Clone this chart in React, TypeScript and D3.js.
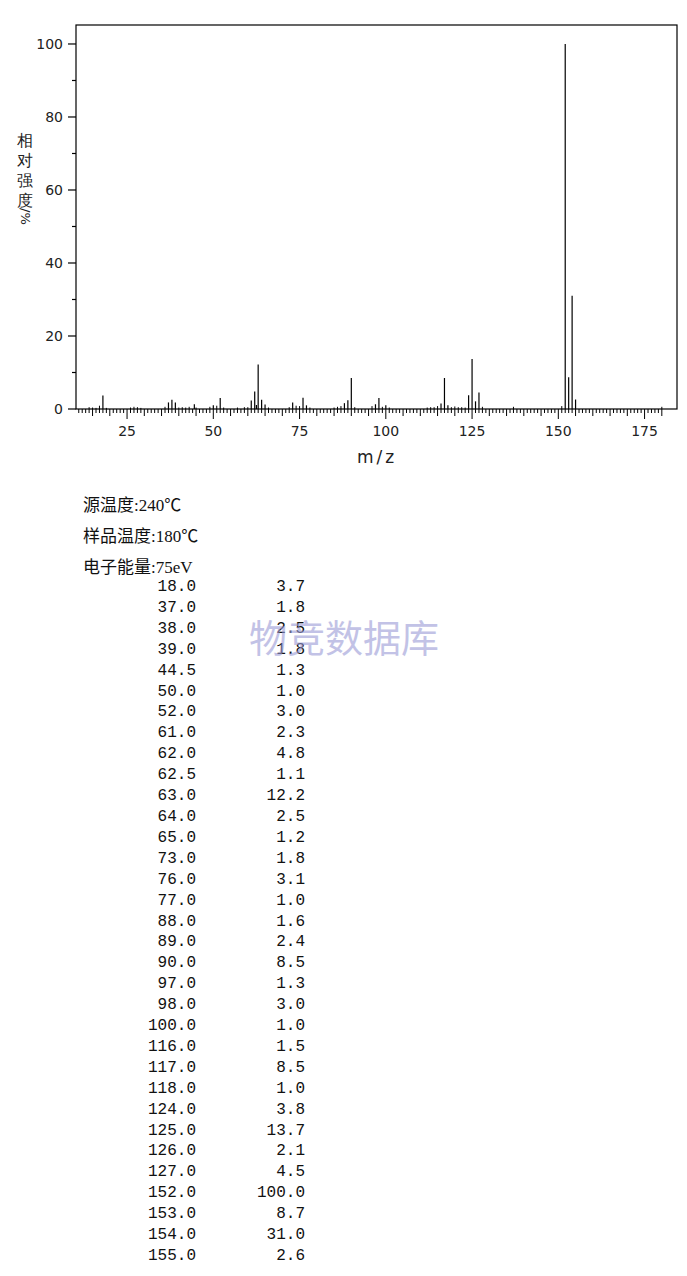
import React from 'react';
import * as d3 from 'd3';

// table peaks (m/z, relative intensity)
const mzValues = [18.0, 37.0, 38.0, 39.0, 44.5, 50.0, 52.0, 61.0, 62.0, 62.5, 63.0, 64.0, 65.0, 73.0, 76.0, 77.0, 88.0, 89.0, 90.0, 97.0, 98.0, 100.0, 116.0, 117.0, 118.0, 124.0, 125.0, 126.0, 127.0, 152.0, 153.0, 154.0, 155.0];
const intensities = [3.7, 1.8, 2.5, 1.8, 1.3, 1.0, 3.0, 2.3, 4.8, 1.1, 12.2, 2.5, 1.2, 1.8, 3.1, 1.0, 1.6, 2.4, 8.5, 1.3, 3.0, 1.0, 1.5, 8.5, 1.0, 3.8, 13.7, 2.1, 4.5, 100.0, 8.7, 31.0, 2.6];

// small peaks drawn in the plot but not listed in the table
const minorMz = [14, 15, 16, 17, 19, 26, 27, 28, 29, 36, 40, 41, 42, 43, 45, 49, 51, 53, 57, 59, 60, 66, 72, 74, 75, 78, 85, 86, 87, 91, 96, 99, 101, 112, 113, 114, 115, 119, 120, 121, 122, 123, 128, 137, 151, 180];
const minorInt = [0.5, 0.4, 0.3, 0.9, 0.3, 0.4, 0.6, 0.5, 0.3, 0.6, 0.4, 0.5, 0.4, 0.6, 0.4, 0.6, 0.9, 0.4, 0.4, 0.5, 0.5, 0.4, 0.5, 0.9, 0.8, 0.4, 0.4, 0.6, 0.8, 0.5, 0.8, 0.6, 0.4, 0.4, 0.5, 0.5, 0.8, 0.5, 0.7, 0.5, 0.5, 0.4, 0.6, 0.6, 0.8, 0.6];

const xTicks = [25, 50, 75, 100, 125, 150, 175];
const yTicks = [0, 20, 40, 60, 80, 100];
const yLabelChars = ['相', '对', '强', '度'];
const infoLines = ['源温度:240℃', '样品温度:180℃', '电子能量:75eV'];

const W = 687;
const H = 1276;
const left = 76, right = 677, top = 25, bottom = 409;

export default function App() {
  const x = d3.scaleLinear().domain([10.2, 184.4]).range([left, right]);
  const y = d3.scaleLinear().domain([0, 105.2]).range([bottom, top]);

  const minorTicks = d3.range(11, 181, 1);
  const yMinor = d3.range(10, 101, 20);

  const sans = 'DejaVu Sans, sans-serif';
  const serif = '"Liberation Serif", "Noto Sans CJK SC", serif';
  const mono = '"Liberation Mono", monospace';

  const rowY = d3.scaleLinear().domain([0, mzValues.length - 1]).range([585, 1254]);

  return (
    <svg width={W} height={H} style={{ position: 'absolute', left: 0, top: 0 }}>
      <rect width={W} height={H} fill="#fff" />
      {/* frame */}
      <rect x={left} y={top} width={right - left} height={bottom - top} fill="none" stroke="#000" strokeWidth={1.2} />
      {/* x ticks */}
      {minorTicks.map(t => {
        const len = t % 25 === 0 ? 10 : t % 5 === 0 ? 7 : 4;
        return <line key={'xt' + t} x1={x(t)} x2={x(t)} y1={bottom} y2={bottom + len} stroke="#000" strokeWidth={1} />;
      })}
      {xTicks.map(t => (
        <text key={'xl' + t} x={x(t)} y={436} textAnchor="middle" fontFamily={sans} fontSize={14} fill="#222">{t}</text>
      ))}
      {/* y ticks */}
      {yTicks.map(t => (
        <g key={'yt' + t}>
          <line x1={left - 8} x2={left} y1={y(t)} y2={y(t)} stroke="#000" strokeWidth={1.2} />
          <text x={63} y={y(t) + 5} textAnchor="end" fontFamily={sans} fontSize={14} fill="#222">{t}</text>
        </g>
      ))}
      {yMinor.map(t => (
        <line key={'ym' + t} x1={left - 4} x2={left} y1={y(t)} y2={y(t)} stroke="#000" strokeWidth={1.2} />
      ))}
      {/* peaks */}
      {minorMz.map((m, i) => (
        <line key={'mp' + m} x1={x(m)} x2={x(m)} y1={y(0)} y2={y(minorInt[i])} stroke="#000" strokeWidth={1} />
      ))}
      {mzValues.map((m, i) => (
        <line key={'p' + m} x1={x(m)} x2={x(m)} y1={y(0)} y2={y(intensities[i])} stroke="#000" strokeWidth={1.2} />
      ))}
      {/* axis titles */}
      <text x={377} y={463} textAnchor="middle" fontFamily={sans} fontSize={17} fill="#222" letterSpacing={3}>m/z</text>
      {yLabelChars.map(c => (
        <text key={c} x={25} y={146 + yLabelChars.indexOf(c) * 20} textAnchor="middle" fontFamily={sans} fontSize={16} fill="#222">{c}</text>
      ))}
      <text transform="translate(21,208) rotate(90)" fontFamily={sans} fontSize={13} fill="#222">/%</text>
      {/* info */}
      {infoLines.map((s, i) => (
        <text key={s} x={83} y={511 + i * 31} fontFamily={serif} fontSize={17} fill="#111">{s}</text>
      ))}
      {/* table */}
      {mzValues.map((m, i) => (
        <g key={'r' + i}>
          <text x={196} y={rowY(i) + 6} textAnchor="end" fontFamily={mono} fontSize={16} fill="#111">{m.toFixed(1)}</text>
          <text x={305} y={rowY(i) + 6} textAnchor="end" fontFamily={mono} fontSize={16} fill="#111">{intensities[i].toFixed(1)}</text>
        </g>
      ))}
      {/* watermark */}
      <text x={344} y={652} textAnchor="middle" fontFamily='"Noto Sans CJK SC", sans-serif' fontSize={38} fill="#9b9bd6" opacity={0.6}>物竞数据库</text>
    </svg>
  );
}
